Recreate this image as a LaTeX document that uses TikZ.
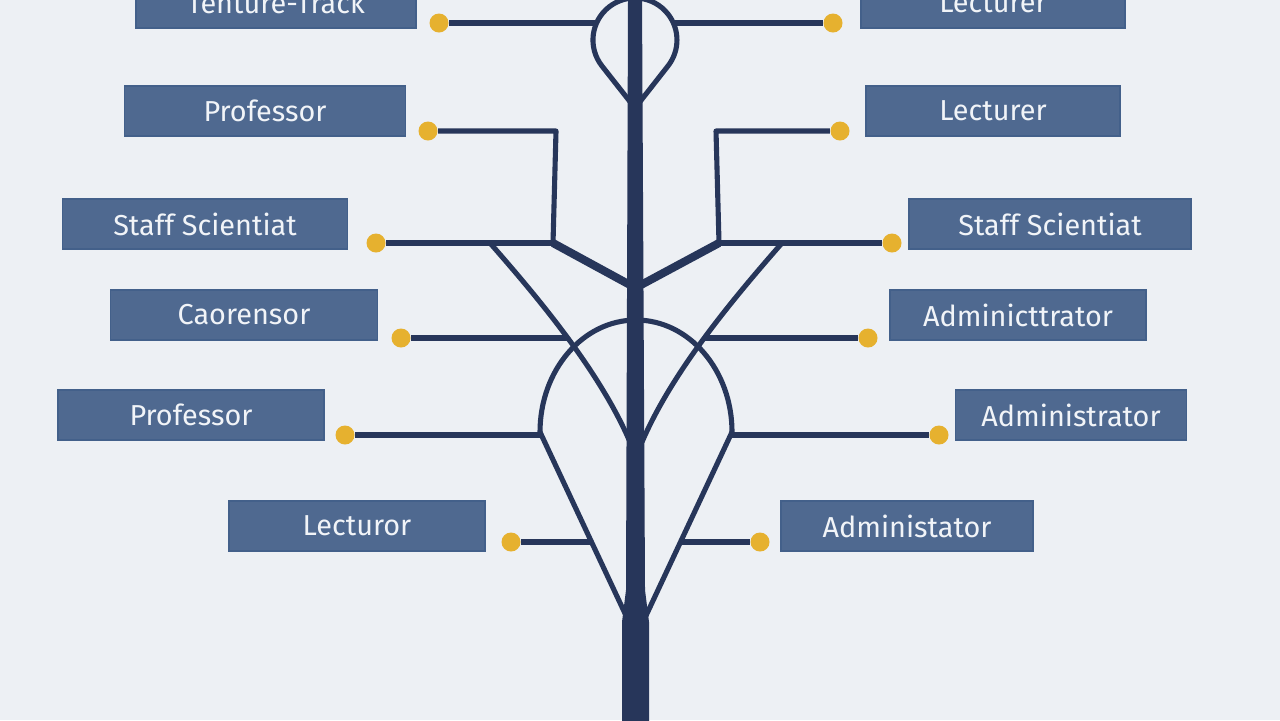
\documentclass[tikz,border=0pt]{standalone}
\usepackage{fontspec}
\setmainfont{Fira Sans}
\usetikzlibrary{positioning}
\definecolor{bgcol}{HTML}{EDF0F4}
\definecolor{boxcol}{HTML}{4F6990}
\definecolor{boxedge}{HTML}{43608A}
\definecolor{txtcol}{HTML}{F1F4F8}
\definecolor{linecol}{HTML}{27365A}
\definecolor{dotcol}{HTML}{E6B12F}
\pgfdeclarelayer{background}
\pgfdeclarelayer{wires}
\pgfsetlayers{background,wires,main}
\tikzset{
	role/.style={rectangle,fill=boxcol,draw=boxedge,line width=0.5pt,text=txtcol,minimum height=0.5cm,inner sep=0pt,font=\fontsize{8.2}{9}\selectfont},
	pin/.style={circle,fill=dotcol,minimum size=0.19cm,inner sep=0pt},
	wire/.style={draw=linecol,line width=1.45pt,line join=round},
	fat wire/.style={draw=linecol,line width=2.3pt,line join=round},
}

\begin{document}
\begin{tikzpicture}[x=0.01cm,y=-0.01cm]
	\useasboundingbox (0,0) rectangle (1280,720);
	\begin{pgfonlayer}{background}
		\fill[bgcol] (0,0) rectangle (1280,720);
	\end{pgfonlayer}

	\node[role,minimum width=2.80cm] (tenure) at (276,3) {Tenture-Track};
	\node[role,minimum width=2.64cm] (lectA) at (993,3) {Lecturer};
	\node[role,minimum width=2.81cm] (profA) at (265,111) {Professor};
	\node[role,minimum width=2.54cm] (lectB) at (993,111) {Lecturer};
	\node[role,minimum width=2.85cm] (staffL) at (205,224) {Staff Scientiat};
	\node[role,minimum width=2.82cm] (staffR) at (1050,224) {Staff Scientiat};
	\node[role,minimum width=2.67cm] (caor) at (244,315) {Caorensor};
	\node[role,minimum width=2.56cm] (adminA) at (1018,315) {Adminicttrator};
	\node[role,minimum width=2.66cm] (profB) at (191,415) {Professor};
	\node[role,minimum width=2.31cm] (adminB) at (1071,415) {Administrator};
	\node[role,minimum width=2.56cm] (lectC) at (357,526) {Lecturor};
	\node[role,minimum width=2.52cm] (adminC) at (907,526) {Administator};

	\node[pin] (pTenure) at (439,23) {};
	\node[pin] (pLectA) at (833,23) {};
	\node[pin] (pProfA) at (428,131) {};
	\node[pin] (pLectB) at (840,131) {};
	\node[pin] (pStaffL) at (376,243) {};
	\node[pin] (pStaffR) at (892,243) {};
	\node[pin] (pCaor) at (401,338) {};
	\node[pin] (pAdminA) at (868,338) {};
	\node[pin] (pProfB) at (345,435) {};
	\node[pin] (pAdminB) at (939,435) {};
	\node[pin] (pLectC) at (511,542) {};
	\node[pin] (pAdminC) at (760,542) {};

	\coordinate (top) at (635,-2);
	\coordinate (bud) at (635,108);
	\coordinate (jTenure) at (597,23);
	\coordinate (jLectA) at (674,23);
	\coordinate (elbowL) at (556,131);
	\coordinate (elbowR) at (716,131);
	\coordinate (forkL) at (553,243);
	\coordinate (forkR) at (719,243);
	\coordinate (stemL) at (632,286);
	\coordinate (stemR) at (639,286);
	\coordinate (archL) at (490,243);
	\coordinate (archR) at (782,243);
	\coordinate (archEndL) at (630,442);
	\coordinate (archEndR) at (642,442);
	\coordinate (bulbL) at (540,432);
	\coordinate (bulbR) at (732,432);
	\coordinate (rootL) at (629,622);
	\coordinate (rootR) at (643,622);
	\coordinate (jCaor) at (567,338);
	\coordinate (jAdminA) at (705,338);
	\coordinate (jProfB) at (541,435);
	\coordinate (jAdminB) at (731,435);
	\coordinate (jLectC) at (592,542);
	\coordinate (jAdminC) at (680,542);

	\begin{pgfonlayer}{wires}
		\fill[linecol] (628,-2) -- (642,-2) -- (645,590) -- (649,622) -- (649,722) -- (622,722) -- (622,622) -- (626,590) -- cycle;
		\draw[wire] (bud) -- (601.9,65.9) arc[start angle=141.9,end angle=398.1,radius=42] -- (bud);
		\draw[wire] (bulbL) arc[start angle=180,end angle=360,x radius=96,y radius=112];
		\draw[wire] (bulbL) -- (rootL);
		\draw[wire] (bulbR) -- (rootR);
		\draw[wire] (archL) .. controls (540,300) and (600,372) .. (archEndL);
		\draw[wire] (archR) .. controls (732,300) and (672,372) .. (archEndR);
		\draw[wire] (pTenure) -- (jTenure);
		\draw[wire] (pLectA) -- (jLectA);
		\draw[wire] (pProfA) -- (elbowL) -- (forkL);
		\draw[wire] (pLectB) -- (elbowR) -- (forkR);
		\draw[wire] (pStaffL) -- (forkL);
		\draw[wire] (pStaffR) -- (forkR);
		\draw[fat wire] (forkL) -- (stemL);
		\draw[fat wire] (forkR) -- (stemR);
		\draw[wire] (pCaor) -- (jCaor);
		\draw[wire] (pAdminA) -- (jAdminA);
		\draw[wire] (pProfB) -- (jProfB);
		\draw[wire] (pAdminB) -- (jAdminB);
		\draw[wire] (pLectC) -- (jLectC);
		\draw[wire] (pAdminC) -- (jAdminC);
	\end{pgfonlayer}
\end{tikzpicture}
\end{document}
